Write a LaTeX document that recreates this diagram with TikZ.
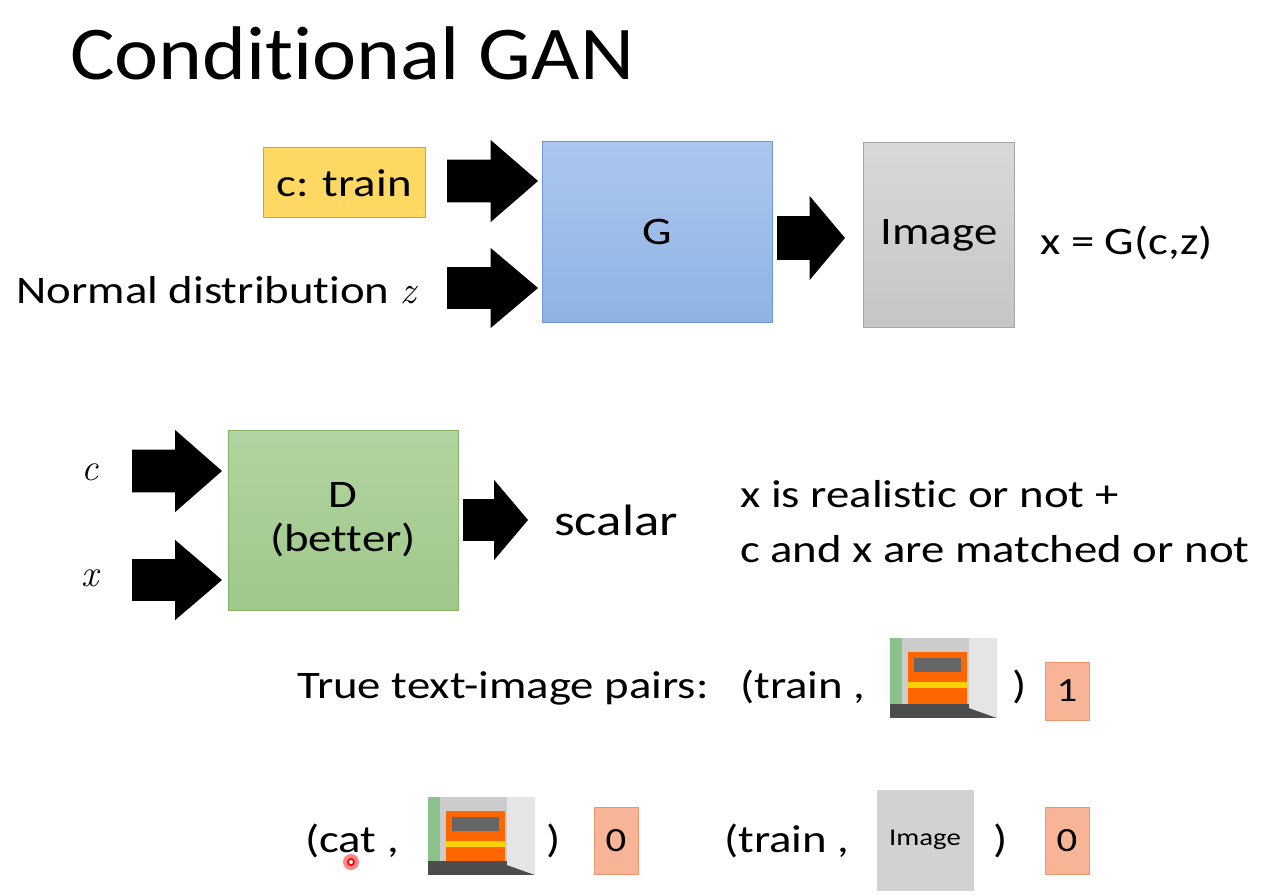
\documentclass[tikz,border=0pt]{standalone}
\usepackage{fontspec}
\setmainfont{Carlito}[Ligatures=NoCommon,FakeStretch=1.2]
\definecolor{gtop}{RGB}{172,199,238}
\definecolor{gbot}{RGB}{142,180,228}
\definecolor{gdraw}{RGB}{110,150,210}
\definecolor{dtop}{RGB}{178,212,160}
\definecolor{dbot}{RGB}{160,200,138}
\definecolor{ddraw}{RGB}{130,180,100}
\definecolor{lfill}{RGB}{248,180,150}
\definecolor{ldraw}{RGB}{240,150,110}
\begin{document}
\begin{tikzpicture}[x=1pt,y=-1pt,
  txt/.style={font=\fontsize{39}{44}\selectfont,inner sep=0pt},
  box/.style={draw,line width=1pt,inner sep=0pt},
  lbl/.style={fill=lfill,draw=ldraw,box,font=\fontsize{34}{38}\selectfont}]
\useasboundingbox (0,0) rectangle (1275,896);
\fill[white] (0,0) rectangle (1275,896);
\newcommand\barrow[4]{% x1 x2 ytop ybot
  \pgfmathsetmacro\ym{(#3+#4)/2}\pgfmathsetmacro\h{(#4-#3)}
  \pgfmathsetmacro\xh{#2-0.52*(#2-#1)}
  \fill[black] (#1,\ym-0.26*\h) -- (\xh,\ym-0.26*\h) -- (\xh,#3) -- (#2,\ym) -- (\xh,#4) -- (\xh,\ym+0.26*\h) -- (#1,\ym+0.26*\h) -- cycle;}
\newcommand\trainpic[4]{% x1 y1 x2 y2
  \fill[gray!40] (#1,#2) rectangle (#3,#4);
  \fill[green!30!gray!70] (#1,#2) rectangle (#1+12,#4);
  \fill[gray!60!black] (#1,#4-14) rectangle (#3,#4);
  \fill[orange!80!red] (#1+18,#2+14) rectangle (#3-30,#4-14);
  \fill[gray!80!black] (#1+24,#2+20) rectangle (#3-36,#2+34);
  \fill[yellow!70!orange] (#1+18,#2+44) rectangle (#3-30,#2+50);
  \fill[gray!20] (#3-28,#2) -- (#3,#2) -- (#3,#4) -- (#3-28,#4-10) -- cycle;}

\node[anchor=base west,inner sep=0pt,font=\fontsize{76}{80}\selectfont\addfontfeatures{FakeStretch=1.1}] (title) at (70,80) {Conditional GAN};

\node[box,fill=yellow!55!orange!60,draw=orange!80!yellow,minimum width=162,minimum height=70,txt] (c) at (344,183) {c: train};
\node[txt,anchor=base east] (nd) at (416,303) {Normal distribution \fontspec{Latin Modern Roman}\itshape z};
\barrow{447}{538}{140}{222}
\barrow{447}{538}{248}{328}
\node[box,top color=gtop,bottom color=gbot,draw=gdraw,minimum width=230,minimum height=180,txt] (G) at (657,232) {G};
\barrow{777}{845}{196}{280}
\node[box,top color=gray!30,bottom color=gray!45,draw=gray!70,minimum width=151,minimum height=185,txt] (img) at (939,235) {Image};
\node[txt,anchor=west] (xg) at (1040,243) {x = G(c,z)};

\node[txt,font=\fontsize{38}{40}\selectfont\fontspec{Latin Modern Roman}\itshape] (cc) at (90,472) {c};
\node[txt,font=\fontsize{38}{40}\selectfont\fontspec{Latin Modern Roman}\itshape] (xx) at (90,578) {x};
\barrow{132}{222}{430}{512}
\barrow{132}{222}{540}{620}
\node[box,top color=dtop,bottom color=dbot,draw=ddraw,minimum width=230,minimum height=180,txt,align=center] (D) at (343,520) {D\\(better)};
\barrow{463}{528}{480}{560}
\node[txt,anchor=west,font=\fontsize{44}{48}\selectfont] (sc) at (554,520) {scalar};
\node[txt,anchor=base west] (t1) at (740,507) {x is realistic or not +};
\node[txt,anchor=base west] (t2) at (740,562) {c and x are matched or not};

\node[txt,anchor=base west] (tp) at (297,698) {True text-image pairs:};
\node[txt,anchor=base west] (tr1) at (740,698) {(train ,};
\trainpic{890}{638}{997}{718}
\node[txt,anchor=base west] (p1) at (1012,698) {)};
\node[lbl,minimum width=44,minimum height=58] (l1) at (1067,691) {1};

\node[txt,anchor=base west] (ct) at (305,852) {(cat ,};
\trainpic{428}{797}{535}{875}
\node[txt,anchor=base west] (p2) at (546,852) {)};
\node[lbl,minimum width=44,minimum height=67] (l2) at (616,841) {0};
\node[txt,anchor=base west] (tr2) at (724,852) {(train ,};
\node[box,fill=gray!35,draw=gray!35,minimum width=96,minimum height=100,font=\fontsize{24}{26}\selectfont] (im2) at (925,840) {Image};
\node[txt,anchor=base west] (p3) at (993,852) {)};
\node[lbl,minimum width=44,minimum height=67] (l3) at (1067,841) {0};
\fill[red!80,opacity=0.6] (351,862) circle (8);
\fill[red] (351,862) circle (4);
\fill[white] (351,862) circle (2);
\end{tikzpicture}
\end{document}
